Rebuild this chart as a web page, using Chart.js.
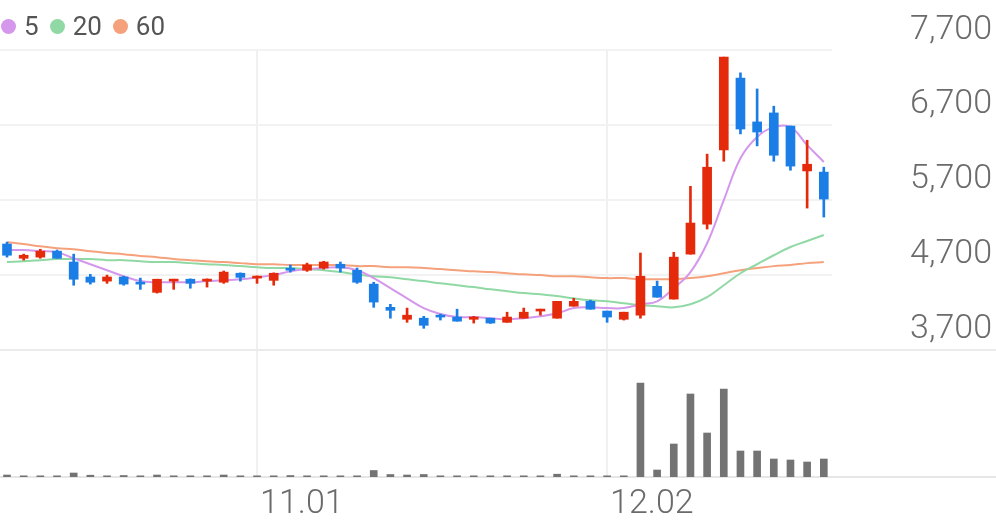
<!DOCTYPE html>
<html>
<head>
<meta charset="utf-8">
<script src="https://cdn.jsdelivr.net/npm/chart.js@4.4.1/dist/chart.umd.min.js"></script>
<style>
  html, body { margin: 0; padding: 0; background: #fff; }
  #wrap { position: relative; width: 996px; height: 522px; }
  #legend { position: absolute; left: 0; top: 11px; display: flex; align-items: center;
            font: 400 26px Roboto, sans-serif; color: #555; line-height: 30px; }
  #legend .dot { display: inline-block; width: 15px; height: 15px; border-radius: 50%; margin: 0 8px 0 1px; }
  #legend .item { display: flex; align-items: center; margin-right: 10px; }
</style>
</head>
<body>
<div id="wrap">
  <canvas id="chart" width="996" height="522"></canvas>
  <div id="legend"></div>
</div>
<script>
// daily candles (open / high / low / close)
const opens  = [5110,4920,4935,5015,4870,4670,4615,4670,4600,4465,4615,4640,4615,4600,4720,4655,4625,4780,4760,4790,
                4840,4760,4575,4265,4105,4120,4160,4135,4105,4120,4065,4120,4215,4120,4280,4345,4215,4105,4160,4545,
                4375,4975,5375,6365,7325,6740,6860,6685,6085,6070];
const highs  = [5135,4975,5040,5030,4975,4705,4695,4680,4655,4640,4640,4645,4645,4750,4725,4685,4725,4830,4855,4880,
                4870,4790,4600,4305,4255,4145,4175,4240,4145,4120,4200,4255,4240,4345,4385,4360,4215,4200,4990,4615,
                5000,5880,6310,7605,7395,7180,6950,6685,6495,6135];
const lows   = [4935,4895,4920,4920,4560,4575,4585,4560,4505,4455,4505,4520,4535,4585,4615,4585,4560,4735,4745,4775,
                4735,4585,4265,4120,4065,3985,4095,4080,4055,4050,4065,4120,4160,4120,4280,4240,4065,4095,4120,4400,
                4375,4975,5310,6215,6580,6420,6215,6095,5590,5470];
const closes = [4960,4960,5015,4920,4640,4600,4670,4575,4575,4640,4640,4585,4640,4735,4665,4680,4720,4760,4830,4870,
                4790,4600,4335,4225,4160,4025,4135,4080,4135,4055,4135,4200,4240,4345,4345,4240,4135,4200,4680,4400,
                4935,5390,6135,7605,6645,6605,6295,6150,6175,5710];
const volumes = [20000,12000,12000,12000,40000,18000,12000,15000,12000,20000,12000,12000,12000,20000,12000,12000,12000,15000,12000,12000,
                 12000,12000,65000,25000,20000,25000,12000,12000,12000,12000,12000,12000,12000,28000,12000,12000,12000,12000,940000,70000,
                 330000,830000,440000,880000,260000,260000,180000,170000,150000,180000];

// moving averages as drawn
const ma5  = [5030,5030,5015,5000,4920,4840,4760,4680,4615,4600,4600,4600,4615,4625,4640,4665,4695,4745,4775,4790,
              4800,4760,4655,4520,4385,4255,4175,4135,4135,4120,4105,4120,4145,4185,4255,4265,4255,4255,4305,4345,
              4520,4735,5120,5695,6255,6540,6670,6670,6430,6205];
const ma20 = [4870,4880,4895,4910,4910,4910,4895,4895,4880,4870,4870,4855,4840,4830,4815,4800,4790,4790,4775,4760,
              4735,4705,4680,4665,4640,4615,4585,4560,4535,4505,4480,4455,4440,4415,4385,4360,4345,4320,4295,4280,
              4265,4305,4400,4560,4720,4840,4960,5070,5150,5230];
const ma60 = [5135,5110,5080,5055,5040,5015,4990,4975,4950,4935,4910,4895,4880,4870,4855,4840,4840,4830,4830,4830,
              4830,4815,4815,4800,4800,4790,4775,4760,4745,4735,4720,4705,4695,4680,4680,4665,4655,4655,4640,4640,
              4640,4655,4680,4720,4760,4790,4815,4830,4855,4870];

const maLabels = ['5', '20', '60'];
const maColors = ['#d597ec', '#90d9a5', '#f5a27c'];
const priceTicks = [3700, 4700, 5700, 6700, 7700];
const xTickIdx = [15, 36];
const xTickLabels = ['11.01', '12.02'];

const UP = '#e42a0b', DOWN = '#1b7ee6';

document.addEventListener('DOMContentLoaded', () => {
    const candleColors = closes.map((c, i) => c >= opens[i] ? UP : DOWN);

    // light price grid that stops at the last candle, bottom line runs full width
    const priceGrid = {
        id: 'priceGrid',
        beforeDatasetsDraw(chart) {
            const { ctx, chartArea, scales: { x, y } } = chart;
            const endX = x.getPixelForValue(closes.length - 0.5);
            ctx.save();
            priceTicks.forEach((v, i) => {
                const py = Math.round(y.getPixelForValue(v));
                ctx.strokeStyle = i === 0 ? '#ebebeb' : '#f2f2f2';
                ctx.lineWidth = 2;
                ctx.beginPath();
                ctx.moveTo(chartArea.left, py);
                ctx.lineTo(i === 0 ? chart.width : endX, py);
                ctx.stroke();
            });
            ctx.restore();
        }
    };

    const line = (data, color) => ({
        type: 'line', data: data.map((v, i) => ({ x: i, y: v })), yAxisID: 'y',
        borderColor: color, borderWidth: 2, pointRadius: 0, tension: 0.4, order: 5
    });

    new Chart(document.getElementById('chart'), {
        data: {
            datasets: [
                line(ma5, maColors[0]),
                line(ma20, maColors[1]),
                line(ma60, maColors[2]),
                {
                    type: 'bar', yAxisID: 'vol', order: 4, grouped: false,
                    data: volumes.map((v, i) => ({ x: i, y: v })),
                    backgroundColor: '#737373', barThickness: 7
                },
                {
                    type: 'bar', yAxisID: 'y', order: 2, grouped: false,
                    data: lows.map((l, i) => ({ x: i, y: [l, highs[i]] })),
                    backgroundColor: candleColors, barThickness: 2
                },
                {
                    type: 'bar', yAxisID: 'y', order: 1, grouped: false,
                    data: opens.map((o, i) => ({ x: i, y: [o, closes[i]] })),
                    backgroundColor: candleColors, barThickness: 9, minBarLength: 2
                }
            ]
        },
        options: {
            responsive: false,
            animation: false,
            layout: { padding: { top: 50, left: 0, right: 0, bottom: 0 } },
            plugins: { legend: { display: false }, tooltip: { enabled: false } },
            scales: {
                x: {
                    type: 'linear', min: -0.42, max: 59.33, offset: false,
                    afterBuildTicks: (s) => { s.ticks = xTickIdx.map(v => ({ value: v })); },
                    afterFit: (s) => { s.height = 45; },
                    grid: { color: '#f0f0f0', lineWidth: 2, drawTicks: false, offset: false },
                    border: { display: true, color: '#e6e6e6', width: 2 },
                    ticks: {
                        autoSkip: false, maxRotation: 0, align: 'start', labelOffset: 3, padding: 7,
                        color: '#6b6b6b', font: { family: 'Roboto', size: 34, weight: '300' },
                        callback: (v) => xTickLabels[xTickIdx.indexOf(v)]
                    }
                },
                y: {
                    position: 'right', min: 2000, max: 7700,
                    afterBuildTicks: (s) => { s.ticks = priceTicks.map(v => ({ value: v })); },
                    afterFit: (s) => { s.width = 0; },
                    grid: { display: false },
                    border: { display: false },
                    ticks: {
                        mirror: true, padding: -4, labelOffset: -20,
                        color: '#6b6b6b', font: { family: 'Roboto', size: 34, weight: '300' },
                        callback: (v) => v.toLocaleString('en-US')
                    }
                },
                vol: { display: false, min: 0, max: 4270000 }
            }
        },
        plugins: [priceGrid]
    });

    const legend = document.getElementById('legend');
    maLabels.forEach((t, i) => {
        const item = document.createElement('span');
        item.className = 'item';
        item.innerHTML = '<span class="dot" style="background:' + maColors[i] + '"></span>' + t;
        legend.appendChild(item);
    });
});
</script>
</body>
</html>
